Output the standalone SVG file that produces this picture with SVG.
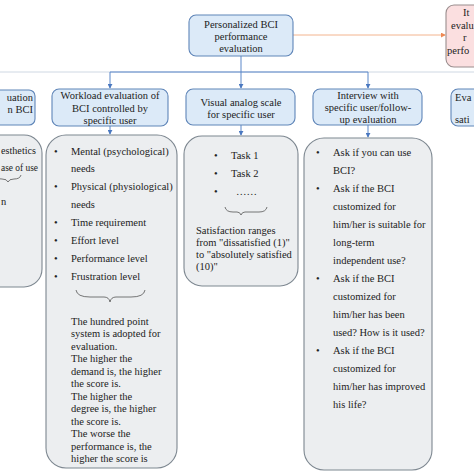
<svg xmlns="http://www.w3.org/2000/svg" width="474" height="474" viewBox="0 0 474 474">
<style>
text{font-family:"Liberation Serif","Times New Roman",serif;font-size:10.5px;fill:#222}
.m{text-anchor:middle}
.e{text-anchor:end}
.hb{fill:#dceaf8;stroke:#5f85b8;stroke-width:1.1}
.tb{fill:#eceef0;stroke:#7d8790;stroke-width:1.1}
.rb{fill:#fbdfe0;stroke:#9a8e8e;stroke-width:1.1}
.c{fill:none;stroke:#5b87c9;stroke-width:1}
.br{fill:none;stroke:#555;stroke-width:0.8}
</style>
<defs>
<marker id="ab" viewBox="0 0 6 6" refX="5" refY="3" markerWidth="5" markerHeight="5" orient="auto"><path d="M0,0 L6,3 L0,6 z" fill="#4a78c0"/></marker>
<marker id="ao" viewBox="0 0 6 6" refX="5" refY="3" markerWidth="5" markerHeight="5" orient="auto"><path d="M0,0 L6,3 L0,6 z" fill="#ee8a55"/></marker>
</defs>
<rect width="474" height="474" fill="#fff"/>
<g id="connectors">
<line x1="0" y1="72" x2="474" y2="72" stroke="#cfd8e3" stroke-width="1"/>
<line x1="110" y1="72" x2="368" y2="72" class="c"/>
<line x1="241" y1="56" x2="241" y2="88" class="c" marker-end="url(#ab)"/>
<line x1="110" y1="72" x2="110" y2="88" class="c" marker-end="url(#ab)"/>
<line x1="368" y1="72" x2="368" y2="88" class="c" marker-end="url(#ab)"/>
<line x1="110" y1="126" x2="110" y2="134" class="c" marker-end="url(#ab)"/>
<line x1="241" y1="125" x2="241" y2="135" class="c" marker-end="url(#ab)"/>
<line x1="368" y1="125" x2="368" y2="137" class="c" marker-end="url(#ab)"/>
<line x1="293" y1="35" x2="445" y2="35" stroke="#f3b48e" stroke-width="1" marker-end="url(#ao)"/>
</g>
<g id="top">
<rect x="189" y="15" width="104" height="41" rx="7" class="hb"/>
<text x="241" y="28" class="m">Personalized BCI</text>
<text x="241" y="40" class="m">performance</text>
<text x="241" y="52" class="m">evaluation</text>
</g>
<g id="right-top">
<rect x="446" y="5" width="60" height="62" rx="8" class="rb"/>
<text x="463" y="16">It</text>
<text x="451" y="29">evalu</text>
<text x="463" y="41">r</text>
<text x="447" y="54">perfo</text>
</g>
<g id="left-head">
<rect x="-20" y="90" width="55" height="35" rx="6" class="hb"/>
<text x="33" y="101" class="e">uation</text>
<text x="33" y="113" class="e">n BCI</text>
</g>
<g id="left-body">
<rect x="-40" y="135" width="82" height="152" rx="18" class="tb"/>
<text x="1" y="154" textLength="35" lengthAdjust="spacingAndGlyphs">esthetics</text>
<text x="1" y="171" textLength="37" lengthAdjust="spacingAndGlyphs">ase of use</text>
<path d="M-6,175 Q-5,179 2,179 Q7,179 8,182 Q9,179 14,179 Q20,179 21,175" class="br"/>
<text x="1" y="205">n</text>
</g>
<g id="workload-head">
<rect x="52" y="89" width="116" height="37" rx="7" class="hb"/>
<text x="110" y="99" class="m">Workload evaluation of</text>
<text x="110" y="112" class="m">BCI controlled by</text>
<text x="110" y="124" class="m">specific user</text>
</g>
<g id="workload-body">
<rect x="46" y="135" width="131" height="333" rx="20" class="tb"/>
<text x="54" y="155">•</text><text x="71" y="155">Mental (psychological)</text>
<text x="71" y="172">needs</text>
<text x="54" y="190">•</text><text x="71" y="190">Physical (physiological)</text>
<text x="71" y="208">needs</text>
<text x="54" y="226">•</text><text x="71" y="226">Time requirement</text>
<text x="54" y="244">•</text><text x="71" y="244">Effort level</text>
<text x="54" y="262">•</text><text x="71" y="262">Performance level</text>
<text x="54" y="280">•</text><text x="71" y="280">Frustration level</text>
<path d="M76,290 Q77,297 90,297 L104,297 Q109,297 110,302 Q111,297 116,297 L131,297 Q144,297 145,290" class="br"/>
<text x="71" y="325">The hundred point</text>
<text x="71" y="337">system is adopted for</text>
<text x="71" y="350">evaluation.</text>
<text x="71" y="362">The higher the</text>
<text x="71" y="375">demand is, the higher</text>
<text x="71" y="387">the score is.</text>
<text x="71" y="400">The higher the</text>
<text x="71" y="412">degree is, the higher</text>
<text x="71" y="425">the score is.</text>
<text x="71" y="437">The worse the</text>
<text x="71" y="450">performance is, the</text>
<text x="71" y="462">higher the score is</text>
</g>
<g id="visual-head">
<rect x="186" y="89" width="109" height="36" rx="7" class="hb"/>
<text x="241" y="106" class="m">Visual analog scale</text>
<text x="241" y="118" class="m">for specific user</text>
</g>
<g id="visual-body">
<rect x="184" y="136" width="114" height="150" rx="18" class="tb"/>
<text x="214" y="159">•</text><text x="231" y="159">Task 1</text>
<text x="214" y="177">•</text><text x="231" y="177">Task 2</text>
<text x="214" y="195">•</text><text x="236" y="195">……</text>
<path d="M225,207 Q226,212 233,212 L237,212 Q240,212 241,215 Q242,212 245,212 L259,212 Q266,212 267,207" class="br"/>
<text x="196" y="234">Satisfaction ranges</text>
<text x="196" y="246">from "dissatisfied (1)"</text>
<text x="196" y="258">to "absolutely satisfied</text>
<text x="196" y="270">(10)"</text>
</g>
<g id="interview-head">
<rect x="313" y="89" width="109" height="36" rx="7" class="hb"/>
<text x="368" y="99" class="m">Interview with</text>
<text x="368" y="111" class="m">specific user/follow-</text>
<text x="368" y="123" class="m">up evaluation</text>
</g>
<g id="interview-body">
<rect x="304" y="138" width="128" height="332" rx="20" class="tb"/>
<text x="316" y="156">•</text><text x="333" y="156">Ask if you can use</text>
<text x="333" y="174">BCI?</text>
<text x="316" y="192">•</text><text x="333" y="192">Ask if the BCI</text>
<text x="333" y="210">customized for</text>
<text x="333" y="228">him/her is suitable for</text>
<text x="333" y="246">long-term</text>
<text x="333" y="264">independent use?</text>
<text x="316" y="282">•</text><text x="333" y="282">Ask if the BCI</text>
<text x="333" y="300">customized for</text>
<text x="333" y="318">him/her has been</text>
<text x="333" y="336">used? How is it used?</text>
<text x="316" y="354">•</text><text x="333" y="354">Ask if the BCI</text>
<text x="333" y="372">customized for</text>
<text x="333" y="390">him/her has improved</text>
<text x="333" y="408">his life?</text>
</g>
<g id="right-head">
<rect x="451" y="89" width="60" height="37" rx="7" class="hb"/>
<text x="455" y="101">Eva</text>
<text x="455" y="123">sati</text>
</g>
</svg>
